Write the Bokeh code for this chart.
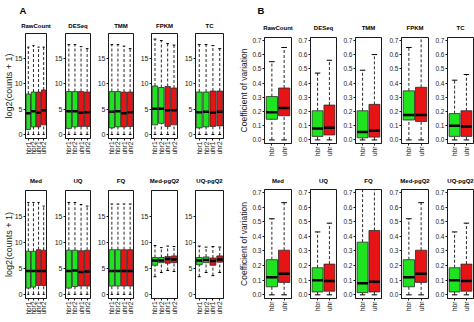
import numpy as np
from bokeh.plotting import figure
from bokeh.layouts import row, column
from bokeh.models import Title, FixedTicker, Range1d, ColumnDataSource, PrintfTickFormatter
from bokeh.embed import file_html
from bokeh.resources import INLINE

# ---------------- data ----------------
methods = ["RawCount", "DESeq", "TMM", "FPKM", "TC",
           "Med", "UQ", "FQ", "Med-pgQ2", "UQ-pgQ2"]
samples_a = ["hbr1", "hbr2", "uhr1", "uhr2"]
samples_b = ["hbr", "uhr"]
colors_a = ["#1fe31f", "#1fe31f", "#e61414", "#e61414"]
colors_b = ["#1fe31f", "#e61414"]

# Panel A: log2(counts + 1) box statistics, [method][sample]
a_low = [[0, 0, 0, 0], [0, 0, 0, 0], [0, 0, 0, 0], [0, 0, 0, 0], [0, 0, 0, 0],
         [0, 0, 0, 0], [0, 0, 0, 0], [0, 0, 0, 0],
         [3.4, 4.2, 4.6, 4.4], [3.4, 4.2, 3.6, 4.2]]
a_q1 = [[1.0, 1.5, 1.5, 1.9], [1.2, 1.5, 1.6, 1.6], [1.3, 1.5, 1.5, 1.6],
        [1.9, 2.2, 1.6, 1.9], [1.3, 1.5, 1.6, 1.7], [1.2, 1.4, 1.7, 1.7],
        [1.2, 1.5, 1.6, 1.6], [1.6, 1.6, 1.6, 1.6],
        [5.6, 6.1, 6.0, 6.1], [5.7, 6.1, 5.6, 6.2]]
a_med = [[4.2, 4.6, 4.3, 4.8], [4.6, 4.6, 4.3, 4.4], [4.5, 4.6, 4.2, 4.4],
         [5.1, 5.1, 4.8, 4.8], [4.4, 4.5, 4.3, 4.5], [4.5, 4.5, 4.5, 4.5],
         [4.5, 4.6, 4.3, 4.4], [4.5, 4.5, 4.5, 4.5],
         [6.5, 6.5, 6.8, 6.7], [6.5, 6.6, 6.4, 6.7]]
a_q3 = [[8.0, 8.4, 8.4, 8.8], [8.5, 8.5, 8.5, 8.4], [8.5, 8.5, 8.4, 8.4],
        [9.6, 9.3, 9.5, 9.2], [8.4, 8.4, 8.6, 8.6], [8.3, 8.3, 8.6, 8.5],
        [8.5, 8.5, 8.4, 8.5], [8.6, 8.6, 8.6, 8.6],
        [7.1, 7.1, 7.3, 7.4], [7.1, 7.2, 7.0, 7.4]]
a_up = [[17.3, 17.6, 17.3, 17.3], [17.8, 17.8, 17.4, 17.0], [17.8, 17.8, 17.5, 17.0],
        [18.9, 18.6, 18.0, 17.7], [17.8, 17.8, 17.6, 17.0], [17.7, 17.7, 17.7, 17.0],
        [17.7, 17.7, 17.3, 17.0], [17.4, 17.4, 17.4, 17.4],
        [9.4, 9.0, 9.3, 9.2], [9.3, 9.1, 9.2, 9.1]]
a_ticks = [0, 5, 10, 15]

# Panel B: coefficient of variation box statistics, [method][group]
b_low = [[0, 0]] * 10
b_q1 = [[0.145, 0.17], [0.025, 0.035], [0.015, 0.02], [0.14, 0.13], [0.025, 0.025],
        [0.055, 0.085], [0.02, 0.025], [0.015, 0.02], [0.055, 0.085], [0.02, 0.025]]
b_med = [[0.195, 0.225], [0.08, 0.085], [0.055, 0.065], [0.175, 0.175], [0.1, 0.095],
         [0.12, 0.145], [0.1, 0.095], [0.08, 0.09], [0.12, 0.145], [0.1, 0.095]]
b_q3 = [[0.305, 0.365], [0.205, 0.245], [0.205, 0.25], [0.345, 0.37], [0.185, 0.205],
        [0.24, 0.305], [0.185, 0.21], [0.36, 0.44], [0.24, 0.305], [0.185, 0.21]]
b_up = [[0.55, 0.65], [0.47, 0.56], [0.49, 0.60], [0.65, 0.76], [0.42, 0.46],
        [0.52, 0.63], [0.43, 0.49], [0.76, 0.76], [0.52, 0.63], [0.43, 0.49]]
b_ticks = [0.0, 0.1, 0.2, 0.3, 0.4, 0.5, 0.6, 0.7]

# ---------------- layout constants ----------------
FONT = "'Liberation Sans', Arial, sans-serif"
ROW_H = 161
A_W = [51, 43, 43, 44, 55]
A_L = [18, 11, 11, 12, 14]
A_R = [5, 4, 4, 4, 13]
B_W = [59, 45, 45, 47, 42]
B_L = [28, 14, 14, 16, 14]
B_R = [4, 4, 4, 4, 1]


def make_fig(width, left, right, top, bottom, yr, n):
    pad = 0.05 if n == 4 else 0.1
    p = figure(width=width, height=ROW_H, output_backend="svg", toolbar_location=None,
               min_border_left=left, min_border_right=right,
               min_border_top=top, min_border_bottom=bottom,
               x_range=Range1d(0.5 - pad, n + 0.5 + pad),
               y_range=Range1d(*yr))
    p.xgrid.visible = False
    p.ygrid.visible = False
    p.outline_line_color = "#1a1a1a"
    p.outline_line_width = 1
    p.background_fill_color = "white"
    p.border_fill_color = "white"
    for ax in (p.xaxis[0], p.yaxis[0]):
        ax.axis_line_color = "#1a1a1a"
        ax.major_tick_line_color = "#1a1a1a"
        ax.minor_tick_line_color = None
        ax.major_tick_in = 0
        ax.major_tick_out = 2
        ax.major_label_text_font = FONT
        ax.major_label_text_color = "#1a1a1a"
        ax.major_label_standoff = 1
        ax.axis_label_text_color = "#1a1a1a"
    p.yaxis.major_label_text_font_size = "7px"
    p.xaxis.major_label_text_font_size = "6.5px"
    p.xaxis.major_label_orientation = np.pi / 2
    return p


def add_title(p, text, size, standoff, align="center", offset=0):
    p.add_layout(Title(text=text, align=align, offset=offset, standoff=standoff,
                       vertical_align="top", text_color="black",
                       text_font_size=size, text_font_style="bold", text_font=FONT), "above")


def draw_boxes(p, xs, low, q1, med, q3, up, colors, bw):
    xs = np.asarray(xs, dtype=float)
    cw = bw / 4.0
    src = ColumnDataSource(dict(x=xs, low=low, q1=q1, med=med, q3=q3, up=up, color=colors,
                                xl=xs - bw / 2, xr=xs + bw / 2, cl=xs - cw, cr=xs + cw))
    p.segment(x0="x", y0="q3", x1="x", y1="up", source=src, line_color="#2a2a2a",
              line_dash="3 2", line_width=1)
    p.segment(x0="x", y0="low", x1="x", y1="q1", source=src, line_color="#2a2a2a",
              line_dash="3 2", line_width=1)
    p.segment(x0="cl", y0="up", x1="cr", y1="up", source=src, line_color="black", line_width=1)
    p.segment(x0="cl", y0="low", x1="cr", y1="low", source=src, line_color="black", line_width=1)
    p.vbar(x="x", width=bw, bottom="q1", top="q3", source=src, fill_color="color",
           line_color="#2a2a2a", line_width=0.8)
    p.segment(x0="xl", y0="med", x1="xr", y1="med", source=src, line_color="black", line_width=2.5)


a_rows = []
b_rows = []
for r in range(2):
    # ---- panel A ----
    figs = []
    top_a, bot_a, ts_a = (33, 23, 5) if r == 0 else (29, 24, 9)
    for i in range(5):
        m = r * 5 + i
        p = make_fig(A_W[i], A_L[i], A_R[i], top_a, bot_a, (-0.8, 20.0), 4)
        add_title(p, methods[m], "6px", ts_a)
        if i == 0 and r == 0:
            add_title(p, "A", "9.5px", 5, align="left", offset=-6)
        p.yaxis.ticker = FixedTicker(ticks=a_ticks)
        p.xaxis.ticker = FixedTicker(ticks=[1, 2, 3, 4])
        p.xaxis.major_label_overrides = {k + 1: s for k, s in enumerate(samples_a)}
        draw_boxes(p, [1, 2, 3, 4], a_low[m], a_q1[m], a_med[m], a_q3[m], a_up[m], colors_a, 0.86)
        if i == 0:
            p.yaxis.axis_label = "log2(counts + 1)"
            p.yaxis.axis_label_text_font = FONT
            p.yaxis.axis_label_text_font_size = "9px"
            p.yaxis.axis_label_text_font_style = "normal"
            p.yaxis.axis_label_standoff = -2
        figs.append(p)
    a_rows.append(row(*figs, spacing=0))
    # ---- panel B ----
    figs = []
    top_b, bot_b, ts_b = (37, 18, 10) if r == 0 else (28, 24, 8)
    for i in range(5):
        m = r * 5 + i
        p = make_fig(B_W[i], B_L[i], B_R[i], top_b, bot_b, (-0.025, 0.72), 2)
        add_title(p, methods[m], "6px", ts_b)
        if i == 0 and r == 0:
            add_title(p, "B", "9.5px", 4, align="left", offset=-7)
        p.yaxis.ticker = FixedTicker(ticks=b_ticks)
        p.yaxis.formatter = PrintfTickFormatter(format="%.1f")
        p.yaxis.major_label_text_font_size = "6.5px"
        p.xaxis.ticker = FixedTicker(ticks=[1, 2])
        p.xaxis.major_label_overrides = {k + 1: s for k, s in enumerate(samples_b)}
        draw_boxes(p, [1, 2], b_low[m], b_q1[m], b_med[m], b_q3[m], b_up[m], colors_b, 0.92)
        if i == 0:
            p.yaxis.axis_label = "Coefficient of variation"
            p.yaxis.axis_label_text_font = FONT
            p.yaxis.axis_label_text_font_size = "8.5px"
            p.yaxis.axis_label_text_font_style = "normal"
            p.yaxis.axis_label_standoff = 0
        figs.append(p)
    b_rows.append(row(*figs, spacing=0))

layout = row(column(*a_rows, spacing=0), column(*b_rows, spacing=0), spacing=0)
open("out.html", "w").write(file_html(layout, INLINE))
